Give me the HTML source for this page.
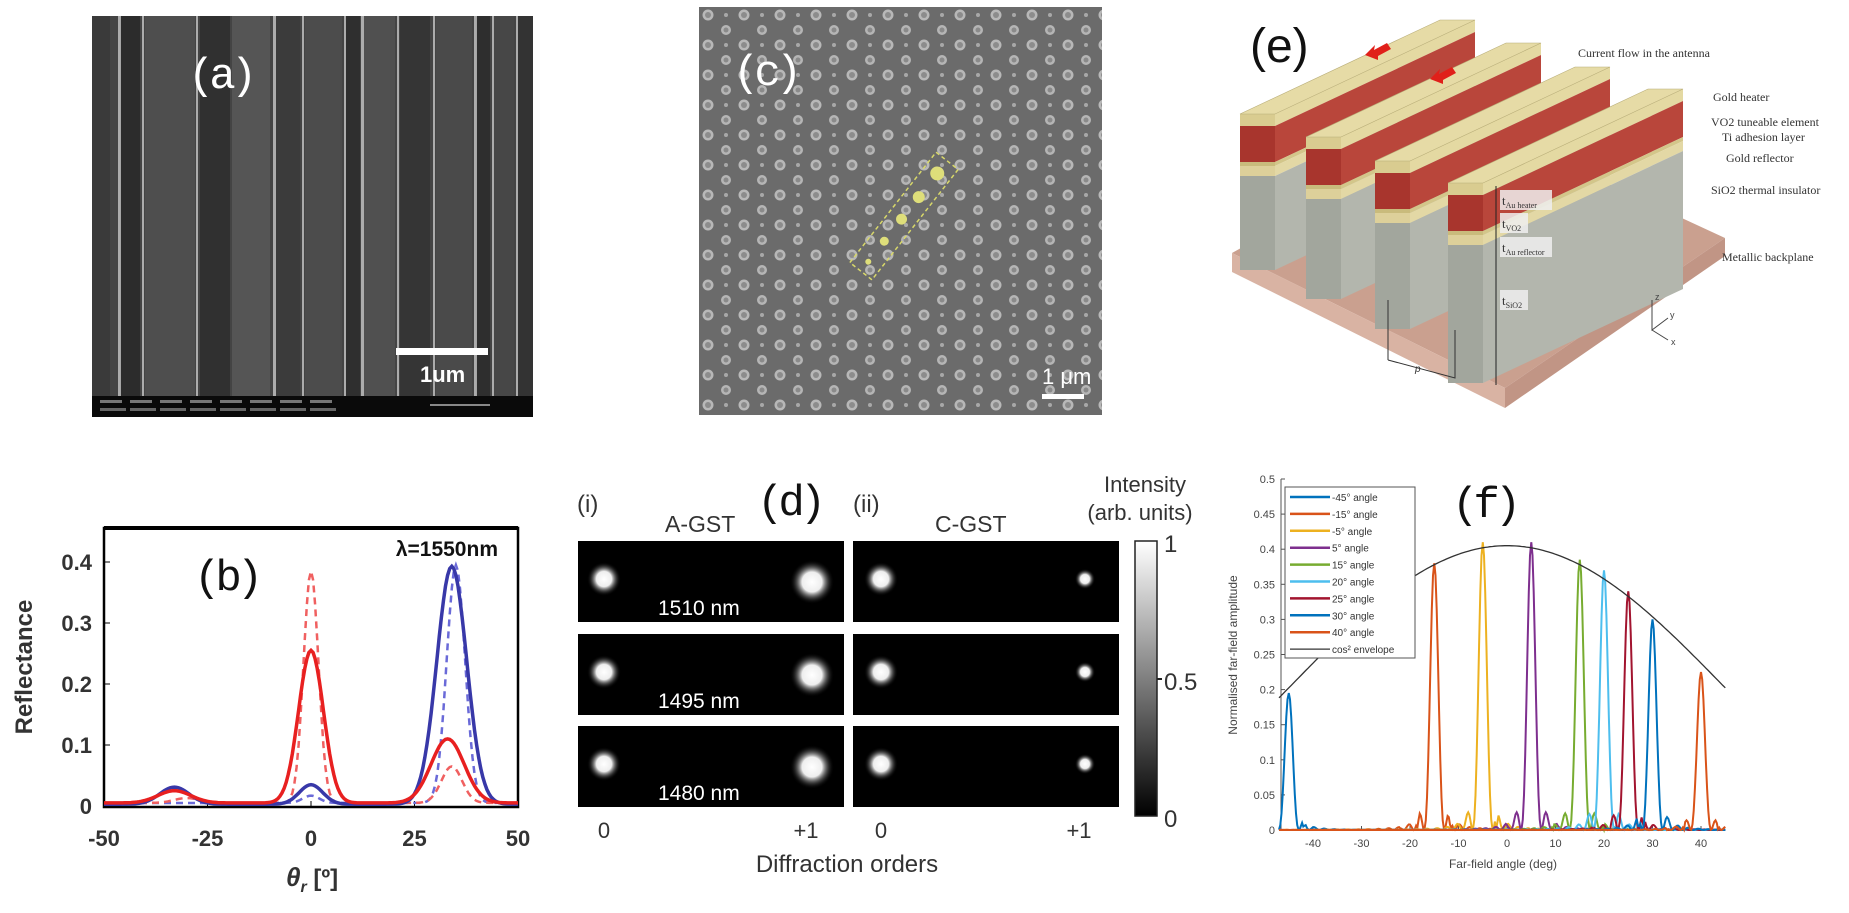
<!DOCTYPE html>
<html><head><meta charset="utf-8">
<style>
html,body{margin:0;padding:0;background:#fff;}
svg{display:block;}
text{font-family:"Liberation Sans",sans-serif;}
text.mono{font-family:"Liberation Mono",monospace;letter-spacing:-5px;}
text.serif{font-family:"Liberation Serif",serif;}
</style></head>
<body>
<svg id="s" width="1849" height="913" viewBox="0 0 1849 913" xmlns="http://www.w3.org/2000/svg">
<defs>
<radialGradient id="spot"><stop offset="0" stop-color="#fff"/><stop offset="0.45" stop-color="#eee"/><stop offset="1" stop-color="#000" stop-opacity="0"/></radialGradient>
<linearGradient id="cbar" x1="0" y1="0" x2="0" y2="1"><stop offset="0" stop-color="#fff"/><stop offset="1" stop-color="#000"/></linearGradient>
<pattern id="dots" x="699" y="7" width="36" height="30" patternUnits="userSpaceOnUse">
<rect width="36" height="30" fill="#6b6b6b"/>
<circle cx="9" cy="8" r="5.5" fill="#b8b8b8"/><circle cx="9" cy="8" r="3" fill="#8c8c8c"/>
<circle cx="27" cy="23" r="5" fill="#b5b5b5"/><circle cx="27" cy="23" r="2.5" fill="#8a8a8a"/>
<circle cx="27" cy="8" r="2" fill="#a8a8a8"/>
</pattern>
</defs>
<g id="semA">
<rect x="92" y="16" width="441" height="401" fill="#444"/>
</g>
<rect x="699" y="7" width="403" height="408" fill="url(#dots)"/>
<g transform="rotate(-52 904 216)">
<rect x="834" y="202" width="140" height="28" fill="none" stroke="#d8d86a" stroke-width="1.5" stroke-dasharray="4,3"/>
<circle cx="846" cy="216" r="3" fill="#dede7a"/><circle cx="872" cy="216" r="4.5" fill="#dede7a"/><circle cx="900" cy="216" r="5.5" fill="#dede7a"/><circle cx="928" cy="216" r="6" fill="#dede7a"/><circle cx="958" cy="216" r="7" fill="#dede7a"/>
</g>
<text x="1042" y="384" font-size="22" fill="#fff">1 μm</text>
<rect x="1042" y="394" width="42" height="5" fill="#fff"/>
<text x="733" y="85" class="mono" font-size="44" fill="#fff">(c)</text>

<g id="figE"></g>
<text x="1250" y="62" font-size="48" fill="#111" style="font-weight:300">(e)</text>
<g font-size="12" fill="#333">
<text x="1578" y="57" class="serif">Current flow in the antenna</text>
<text x="1713" y="101" class="serif">Gold heater</text>
<text x="1711" y="126" class="serif">VO2 tuneable element</text>
<text x="1722" y="141" class="serif">Ti adhesion layer</text>
<text x="1726" y="162" class="serif">Gold reflector</text>
<text x="1711" y="194" class="serif">SiO2 thermal insulator</text>
<text x="1722" y="261" class="serif">Metallic backplane</text>
</g>

<g id="figB"></g>
<g id="figD"></g>
<g id="figF"></g>
</svg>
<script>
var NS="http://www.w3.org/2000/svg";
function el(p,t,a,txt){var e=document.createElementNS(NS,t);for(var k in a)e.setAttribute(k,a[k]);if(txt!==undefined)e.textContent=txt;p.appendChild(e);return e;}
var A=document.getElementById('semA');
var bands=[[92,110,'#3a3a3a'],[120,140,'#2c2c2c'],[145,195,'#4e4e4e'],[200,230,'#303030'],[232,270,'#555'],[276,300,'#3b3b3b'],[305,342,'#4c4c4c'],[346,360,'#2f2f2f'],[364,395,'#505050'],[400,430,'#353535'],[436,472,'#4a4a4a'],[476,490,'#2e2e2e'],[494,514,'#474747'],[518,533,'#333']];
bands.forEach(function(b){el(A,'rect',{x:b[0],y:16,width:b[1]-b[0],height:380,fill:b[2]});});
[118,142,196,273,302,344,361,397,433,474,492,516].forEach(function(x,i){el(A,'rect',{x:x,y:16,width:(i%3==0?3:2),height:380,fill:'#cfcfcf',opacity:0.75});});
el(A,'rect',{x:92,y:396,width:441,height:21,fill:'#0a0a0a'});
for(var i=0;i<8;i++){el(A,'rect',{x:100+i*30,y:400,width:22,height:3,fill:'#777'});el(A,'rect',{x:100+i*30,y:408,width:26,height:3,fill:'#666'});}
el(A,'rect',{x:430,y:404,width:60,height:2,fill:'#888'});
el(A,'rect',{x:396,y:348,width:92,height:7,fill:'#fff'});
el(A,'text',{x:420,y:382,'font-size':22,fill:'#fff','font-weight':'bold'},'1um');
el(A,'text',{x:188,y:88,'class':'mono','font-size':44,fill:'#fff'},'(a)');

var E=document.getElementById('figE');
function poly(p,pts,fill,st){return el(p,'polygon',{points:pts.map(function(q){return q[0]+','+q[1];}).join(' '),fill:fill,stroke:st||'none','stroke-width':0.6});}
poly(E,[[1232,253],[1505,388],[1725,238],[1470,120]],'#caa08f');
poly(E,[[1232,253],[1505,388],[1505,408],[1232,272]],'#d9b3a3');
poly(E,[[1505,388],[1725,238],[1725,256],[1505,408]],'#c19585');
var fins=[[1240,114,156],[1306,137,162],[1375,161,168],[1448,183,200]];
var Dx=200,Dy=-94,w=35;
var layers=[[0,12,'#d9cc90','#e4d9a2'],[12,48,'#a8352d','#b9463b'],[48,52,'#c9bb7c','#d3c68a'],[52,62,'#ddd09a','#e3d8a5'],[62,999,'#a2a69d','#b3b6ad']];
fins.forEach(function(f){
 var x=f[0],y=f[1],h=f[2];
 layers.forEach(function(L){var t0=L[0],t1=Math.min(L[1],h);
  poly(E,[[x+w,y+t0],[x+w+Dx,y+t0+Dy],[x+w+Dx,y+t1+Dy],[x+w,y+t1]],L[3]);});
 layers.forEach(function(L){var t0=L[0],t1=Math.min(L[1],h);
  el(E,'rect',{x:x,y:y+t0,width:w,height:t1-t0,fill:L[2]});});
 poly(E,[[x,y],[x+w,y],[x+w+Dx,y+Dy],[x+Dx,y+Dy]],'#e6dba6','#b8ad78');
});
[[1365,55],[1430,79]].forEach(function(a){poly(E,[[a[0],a[1]],[a[0]+10,a[1]-10],[a[0]+9,a[1]-5],[a[0]+22,a[1]-12],[a[0]+26,a[1]-6],[a[0]+13,a[1]+1],[a[0]+13,a[1]+5]],'#e0201a');});
[[1500,190,"Au heater"],[1500,213,"VO2"],[1500,237,"Au reflector"],[1500,290,"SiO2"]].forEach(function(b){
 el(E,'rect',{x:b[0],y:b[1],width:b[2].length>4?52:28,height:20,fill:'#eee',opacity:0.85});
 var t=el(E,'text',{x:b[0]+2,y:b[1]+15,'font-size':13,'class':'serif',fill:'#333'},'t');
 el(t,'tspan',{'font-size':8,dy:3},b[2]);
});
el(E,'line',{x1:1496,y1:186,x2:1496,y2:385,stroke:'#222','stroke-width':1});
el(E,'line',{x1:1388,y1:300,x2:1388,y2:360,stroke:'#333','stroke-width':1});
el(E,'polyline',{points:'1388,360 1455,378 1455,330',fill:'none',stroke:'#333','stroke-width':1});
el(E,'text',{x:1415,y:372,'font-size':10,'font-style':'italic',fill:'#333'},'p');
el(E,'polyline',{points:'1652,300 1652,330 1668,318',fill:'none',stroke:'#444','stroke-width':1});
el(E,'line',{x1:1652,y1:330,x2:1668,y2:340,stroke:'#444','stroke-width':1});
el(E,'text',{x:1655,y:300,'font-size':9,fill:'#444'},'z');el(E,'text',{x:1670,y:318,'font-size':9,fill:'#444'},'y');el(E,'text',{x:1671,y:345,'font-size':9,fill:'#444'},'x');

var B=document.getElementById('figB');
function bx(t){return 104+(t+50)*4.14;} function by(r){return 806-r*610;}
el(B,'rect',{x:104,y:528,width:414,height:279,fill:'none',stroke:'#000','stroke-width':2.5});
el(B,'line',{x1:104,y1:528,x2:518,y2:528,stroke:'#000','stroke-width':4});
[0,0.1,0.2,0.3,0.4].forEach(function(v){el(B,'line',{x1:104,y1:by(v),x2:110,y2:by(v),stroke:'#000'});el(B,'text',{x:92,y:by(v)+8,'font-size':22,'font-weight':'bold','text-anchor':'end',fill:'#333'},v==0?'0':String(v));});
[-50,-25,0,25,50].forEach(function(v){el(B,'line',{x1:bx(v),y1:807,x2:bx(v),y2:801,stroke:'#000'});el(B,'text',{x:bx(v),y:846,'font-size':22,'font-weight':'bold','text-anchor':'middle',fill:'#333'},String(v));});
el(B,'text',{x:0,y:0,'font-size':24,'font-weight':'bold','text-anchor':'middle',fill:'#333',transform:'translate(32,667) rotate(-90)'},'Reflectance');
var tl=el(B,'text',{x:286,y:886,'font-size':26,'font-style':'italic','font-weight':'bold',fill:'#333'},'θ');
el(tl,'tspan',{'font-size':16,dy:6},'r');el(tl,'tspan',{'font-size':24,dy:-6,'font-style':'normal'},' [º]');
el(B,'text',{x:498,y:556,'font-size':21,'font-weight':'bold','text-anchor':'end',fill:'#111'},'λ=1550nm');
el(B,'text',{x:194,y:590,'class':'mono','font-size':44,fill:'#111'},'(b)');
function g(t,c,s){return Math.exp(-(t-c)*(t-c)/(2*s*s));}
function curve(fn,col,dash,wd){var d='';for(var t=-50;t<=50;t+=0.5){var r=fn(t);d+=(t==-50?'M':'L')+bx(t).toFixed(1)+','+by(r).toFixed(1);}
 el(B,'path',{d:d,fill:'none',stroke:col,'stroke-width':wd,'stroke-dasharray':dash||'none'});}
curve(function(t){return 0.39*g(t,35,2.2)+0.012*g(t,0,2)+0.005;},'#6a6ad8','7,5',2.5);
curve(function(t){return 0.38*g(t,0,1.8)+0.06*g(t,34,2.5)+0.008*g(t,-30,3)+0.005;},'#f06060','7,5',2.5);
curve(function(t){return 0.39*g(t,34,3.6)+0.032*g(t,0,2.8)+0.028*g(t,-33,3.5)+0.003;},'#3838a8',null,3.5);
curve(function(t){return 0.25*g(t,0,3)+0.105*g(t,33,4)+0.02*g(t,-33,4)+0.005;},'#e82020',null,3.5);

var Dd=document.getElementById('figD');
var cols=[[578,[604,812],[10,13]],[853,[881,1085],[10,6]]];
var rows=[[541,'1510 nm'],[634,'1495 nm'],[726,'1480 nm']];
rows.forEach(function(r,ri){cols.forEach(function(c,ci){
 el(Dd,'rect',{x:c[0],y:r[0],width:266,height:81,fill:'#000'});
 for(var k=0;k<2;k++){el(Dd,'circle',{cx:c[1][k],cy:r[0]+38+(k==1&&ci==0?3:0),r:c[2][k]*1.7,fill:'url(#spot)'});}
 if(ci==0)el(Dd,'text',{x:658,y:r[0]+74,'font-size':21,fill:'#fff'},r[1]);
});});
el(Dd,'text',{x:577,y:512,'font-size':24,fill:'#333'},'(i)');
el(Dd,'text',{x:665,y:532,'font-size':23,fill:'#333'},'A-GST');
el(Dd,'text',{x:757,y:515,'class':'mono','font-size':44,fill:'#111'},'(d)');
el(Dd,'text',{x:853,y:512,'font-size':24,fill:'#333'},'(ii)');
el(Dd,'text',{x:935,y:532,'font-size':23,fill:'#333'},'C-GST');
el(Dd,'text',{x:1145,y:492,'font-size':22,'text-anchor':'middle',fill:'#333'},'Intensity');
el(Dd,'text',{x:1140,y:520,'font-size':22,'text-anchor':'middle',fill:'#333'},'(arb. units)');
el(Dd,'rect',{x:1135,y:541,width:22,height:275,fill:'url(#cbar)',stroke:'#222','stroke-width':1.5});
el(Dd,'line',{x1:1157,y1:679,x2:1162,y2:679,stroke:'#222','stroke-width':2});
el(Dd,'text',{x:1164,y:552,'font-size':24,fill:'#333'},'1');
el(Dd,'text',{x:1164,y:690,'font-size':24,fill:'#333'},'0.5');
el(Dd,'text',{x:1164,y:827,'font-size':24,fill:'#333'},'0');
[[604,'0'],[806,'+1'],[881,'0'],[1079,'+1']].forEach(function(l){el(Dd,'text',{x:l[0],y:838,'font-size':22,'text-anchor':'middle',fill:'#333'},l[1]);});
el(Dd,'text',{x:847,y:872,'font-size':24,'text-anchor':'middle',fill:'#333'},'Diffraction orders');

var F=document.getElementById('figF');
function fx(a){return 1507+a*4.85;} function fy(v){return 830-v*702;}
el(F,'line',{x1:1281,y1:479,x2:1281,y2:830,stroke:'#555','stroke-width':1});
el(F,'line',{x1:1281,y1:830,x2:1725,y2:830,stroke:'#555','stroke-width':1});
for(var v=0;v<=0.501;v+=0.05){var vv=Math.round(v*100)/100;el(F,'line',{x1:1281,y1:fy(vv),x2:1285,y2:fy(vv),stroke:'#555'});el(F,'text',{x:1275,y:fy(vv)+4,'font-size':11,'text-anchor':'end',fill:'#444'},String(vv));}
for(var a=-40;a<=40;a+=10){el(F,'line',{x1:fx(a),y1:830,x2:fx(a),y2:826,stroke:'#555'});el(F,'text',{x:fx(a),y:847,'font-size':11,'text-anchor':'middle',fill:'#444'},String(a));}
el(F,'text',{x:1503,y:868,'font-size':12,'text-anchor':'middle',fill:'#444'},'Far-field angle (deg)');
el(F,'text',{x:0,y:0,'font-size':12,'text-anchor':'middle',fill:'#444',transform:'translate(1237,655) rotate(-90)'},'Normalised far-field amplitude');
var pk=[[-45,0.195,'#0072BD'],[-15,0.38,'#D95319'],[-5,0.41,'#EDB120'],[5,0.41,'#7E2F8E'],[15,0.385,'#77AC30'],[20,0.37,'#4DBEEE'],[25,0.34,'#A2142F'],[30,0.30,'#0072BD'],[40,0.225,'#D95319']];
function sinc2(x){if(Math.abs(x)<1e-6)return 1;var s=Math.sin(Math.PI*x)/(Math.PI*x);return s*s;}
pk.forEach(function(p,i){var d='';for(var a=-47;a<=45;a+=0.25){var u=(a-p[0])/2.1;var val=p[1]*sinc2(u);if(Math.abs(u)>1)val=Math.min(val*1.3,0.05*Math.abs(Math.sin(a*0.9+i)));d+=(a==-47?'M':'L')+fx(a).toFixed(1)+','+fy(val).toFixed(1);}
 el(F,'path',{d:d,fill:'none',stroke:p[2],'stroke-width':2});});
var d='';for(var a=-47;a<=45;a+=0.5){d+=(a==-47?'M':'L')+fx(a).toFixed(1)+','+fy(0.405*Math.pow(Math.cos(a*Math.PI/180),2)).toFixed(1);}
el(F,'path',{d:d,fill:'none',stroke:'#333','stroke-width':1.3});
el(F,'rect',{x:1285,y:487,width:130,height:171,fill:'#fff',stroke:'#555','stroke-width':1});
var names=['-45° angle','-15° angle','-5° angle','5° angle','15° angle','20° angle','25° angle','30° angle','40° angle','cos² envelope'];
names.forEach(function(n,i){var y=497+i*16.9;var c=i<9?pk[i][2]:'#333';el(F,'line',{x1:1290,y1:y,x2:1330,y2:y,stroke:c,'stroke-width':i<9?2.5:1.3});el(F,'text',{x:1332,y:y+4,'font-size':10,fill:'#333'},n);});
el(F,'text',{x:1452,y:517,'class':'mono','font-size':44,fill:'#111'},'(f)');
</script>
</body></html>
